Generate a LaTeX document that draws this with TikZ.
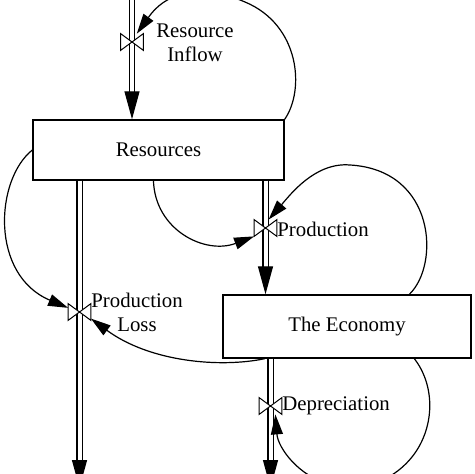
\documentclass[tikz,border=0pt]{standalone}
\usepackage{fontspec}
\setmainfont{Liberation Serif}
\usetikzlibrary{arrows.meta,calc}
\tikzset{
  stock/.style={draw, line width=0.7pt, minimum width=125.5pt, minimum height=30pt, inner sep=0pt},
  valve/.style={minimum width=11pt, minimum height=8pt, inner sep=0pt},
  pipe/.style={double, line width=0.6pt, double distance=2pt, -{Triangle[length=14pt,width=7.5pt]}},
  link/.style={line width=0.6pt, -{Triangle[length=10pt,width=6pt]}},
  lbl/.style={inner sep=0pt, align=center}
}
\begin{document}
\begin{tikzpicture}[x=0.5pt, y=-0.5pt, font=\fontsize{10.4}{12}\selectfont]
  \useasboundingbox (0,0) rectangle (474,474);
  \clip (0,0) rectangle (474,474);
  % Define stocks and valves
  \node[stock] (res) at (158.5,150) {Resources};
  \node[stock, minimum width=124pt, minimum height=31.5pt] (econ) at (347,326.5) {The Economy};
  \node[valve] (vInflow) at (132,42) {};
  \node[valve] (vProd) at (265.5,228) {};
  \node[valve] (vLoss) at (79.5,312) {};
  \node[valve] (vDep) at (270.5,406) {};
  \path
    (132,-10) coordinate (inSrc)
    (79.5,488) coordinate (lossSink)
    (270.5,488) coordinate (depSink)
    ($(econ.south west)!.17!(econ.south east)$) coordinate (lossSrc)
  ;
  % Draw flows
  \draw[pipe] (inSrc) -- (inSrc |- res.north);
  \draw[pipe] (vProd |- res.south) -- (vProd |- econ.north);
  \draw[pipe] (vLoss |- res.south) -- (lossSink);
  \draw[pipe] (vDep |- econ.south) -- (depSink);
  \foreach \v in {vInflow, vProd, vLoss, vDep}
    \draw[fill=white, line width=0.5pt] (\v.north west) -- (\v.south east) -- (\v.north east) -- (\v.south west) -- cycle;
  % Draw links
  \draw[link] (res.north east) .. controls (305,90) and (300,25) .. (245,2)
    .. controls (222,-8) and (175,-20) .. (vInflow.60);
  \draw[link] ($(econ.north west)!.75!(econ.north east)$) .. controls (440,265) and (436,170) .. (350,165)
    .. controls (315,162) and (290,195) .. (vProd.70);
  \draw[link] ($(res.south west)!.48!(res.south east)$) .. controls (155,230) and (205,255) .. (vProd.south west);
  \draw[link] (res.west) .. controls (-5,180) and (-10,275) .. (vLoss.160);
  \draw[link] (lossSrc) .. controls (220,368) and (150,362) .. (vLoss.-30);
  \draw[link] ($(econ.south west)!.77!(econ.south east)$) .. controls (434,384) and (435,422) .. (416.6,450.6)
    .. controls (398,479) and (364,493) .. (331.4,484.8)
    .. controls (299,477) and (278,448) .. (vDep.-60);
  % Labels
  \node[lbl] (lInflow) at (195,43) {Resource\\Inflow};
  \node[lbl] (lLoss) at (137,312) {Production\\Loss};
  \node[lbl, anchor=west] (lProd) at (277,229) {Production};
  \node[lbl, anchor=west] (lDep) at (282,406) {Depreciation};
\end{tikzpicture}
\end{document}
